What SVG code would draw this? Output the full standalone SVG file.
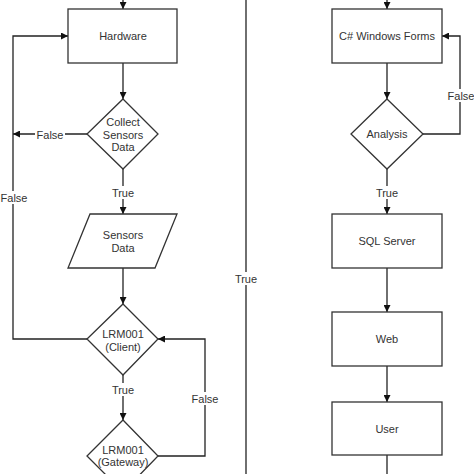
<svg xmlns="http://www.w3.org/2000/svg" width="474" height="474" viewBox="0 0 474 474">
<style>
.n{fill:#fff;stroke:#333;stroke-width:1.3}
.c{fill:none;stroke:#222;stroke-width:1.3}
text{font-family:"Liberation Sans",Arial,sans-serif;font-size:11px;fill:#333;text-anchor:middle}
.lb{fill:#fff}
</style>
<defs>
<marker id="a" viewBox="0 0 10 10" refX="10" refY="5" markerWidth="7" markerHeight="7" markerUnits="userSpaceOnUse" orient="auto">
<path d="M0,0 L10,5 L0,10 Z" fill="#111"/>
</marker>
</defs>
<rect width="474" height="474" fill="#fff"/>
<g id="connectors">
<path class="c" d="M123,0 V9" marker-end="url(#a)"/>
<path class="c" d="M123,63 V99" marker-end="url(#a)"/>
<path class="c" d="M87,134 H13" marker-end="url(#a)"/>
<path class="c" d="M123,169 V214" marker-end="url(#a)"/>
<path class="c" d="M123,268 V304" marker-end="url(#a)"/>
<path class="c" d="M87,339 H13 V36 H68" marker-end="url(#a)"/>
<path class="c" d="M123,375 V420" marker-end="url(#a)"/>
<path class="c" d="M158,456 H205 V339 H158" marker-end="url(#a)"/>
<path class="c" d="M246,0 V474"/>
<path class="c" d="M387,0 V9" marker-end="url(#a)"/>
<path class="c" d="M387,63 V99" marker-end="url(#a)"/>
<path class="c" d="M423,134 H460 V36 H442" marker-end="url(#a)"/>
<path class="c" d="M387,169 V214" marker-end="url(#a)"/>
<path class="c" d="M387,268 V312" marker-end="url(#a)"/>
<path class="c" d="M387,366 V402" marker-end="url(#a)"/>
<path class="c" d="M387,455 V474"/>
<rect class="lb" x="35" y="128" width="30" height="13"/>
<text x="50" y="139">False</text>
<rect class="lb" x="0" y="191" width="29" height="13"/>
<text x="14" y="202">False</text>
<rect class="lb" x="110" y="186" width="26" height="13"/>
<text x="123" y="197">True</text>
<rect class="lb" x="110" y="383" width="26" height="13"/>
<text x="123" y="394">True</text>
<rect class="lb" x="190" y="392" width="30" height="13"/>
<text x="205" y="403">False</text>
<rect class="lb" x="233" y="272" width="26" height="13"/>
<text x="246" y="283">True</text>
<rect class="lb" x="446" y="89" width="30" height="13"/>
<text x="461" y="100">False</text>
<rect class="lb" x="374" y="186" width="26" height="13"/>
<text x="387" y="197">True</text>
</g>
<g id="hardware"><rect class="n" x="68" y="9" width="109" height="54"/><text x="123" y="40">Hardware</text></g>
<g id="collect"><polygon class="n" points="123,99 158,134 123,169 87,134"/><text x="123" y="126">Collect</text><text x="123" y="139">Sensors</text><text x="123" y="151">Data</text></g>
<g id="sensors-data"><polygon class="n" points="90,214 177,214 155,268 68,268"/><text x="123" y="239">Sensors</text><text x="123" y="252">Data</text></g>
<g id="client"><polygon class="n" points="123,304 158,339 123,375 87,339"/><text x="123" y="338">LRM001</text><text x="123" y="351">(Client)</text></g>
<g id="gateway"><polygon class="n" points="123,420 158,456 123,492 87,456"/><text x="123" y="454">LRM001</text><text x="123" y="466">(Gateway)</text></g>
<g id="winforms"><rect class="n" x="332" y="9" width="110" height="54"/><text x="387" y="40">C# Windows Forms</text></g>
<g id="analysis"><polygon class="n" points="387,99 423,134 387,169 351,134"/><text x="387" y="138">Analysis</text></g>
<g id="sql"><rect class="n" x="332" y="214" width="110" height="54"/><text x="387" y="245">SQL Server</text></g>
<g id="web"><rect class="n" x="332" y="312" width="110" height="54"/><text x="387" y="343">Web</text></g>
<g id="user"><rect class="n" x="332" y="402" width="110" height="53"/><text x="387" y="433">User</text></g>
</svg>
